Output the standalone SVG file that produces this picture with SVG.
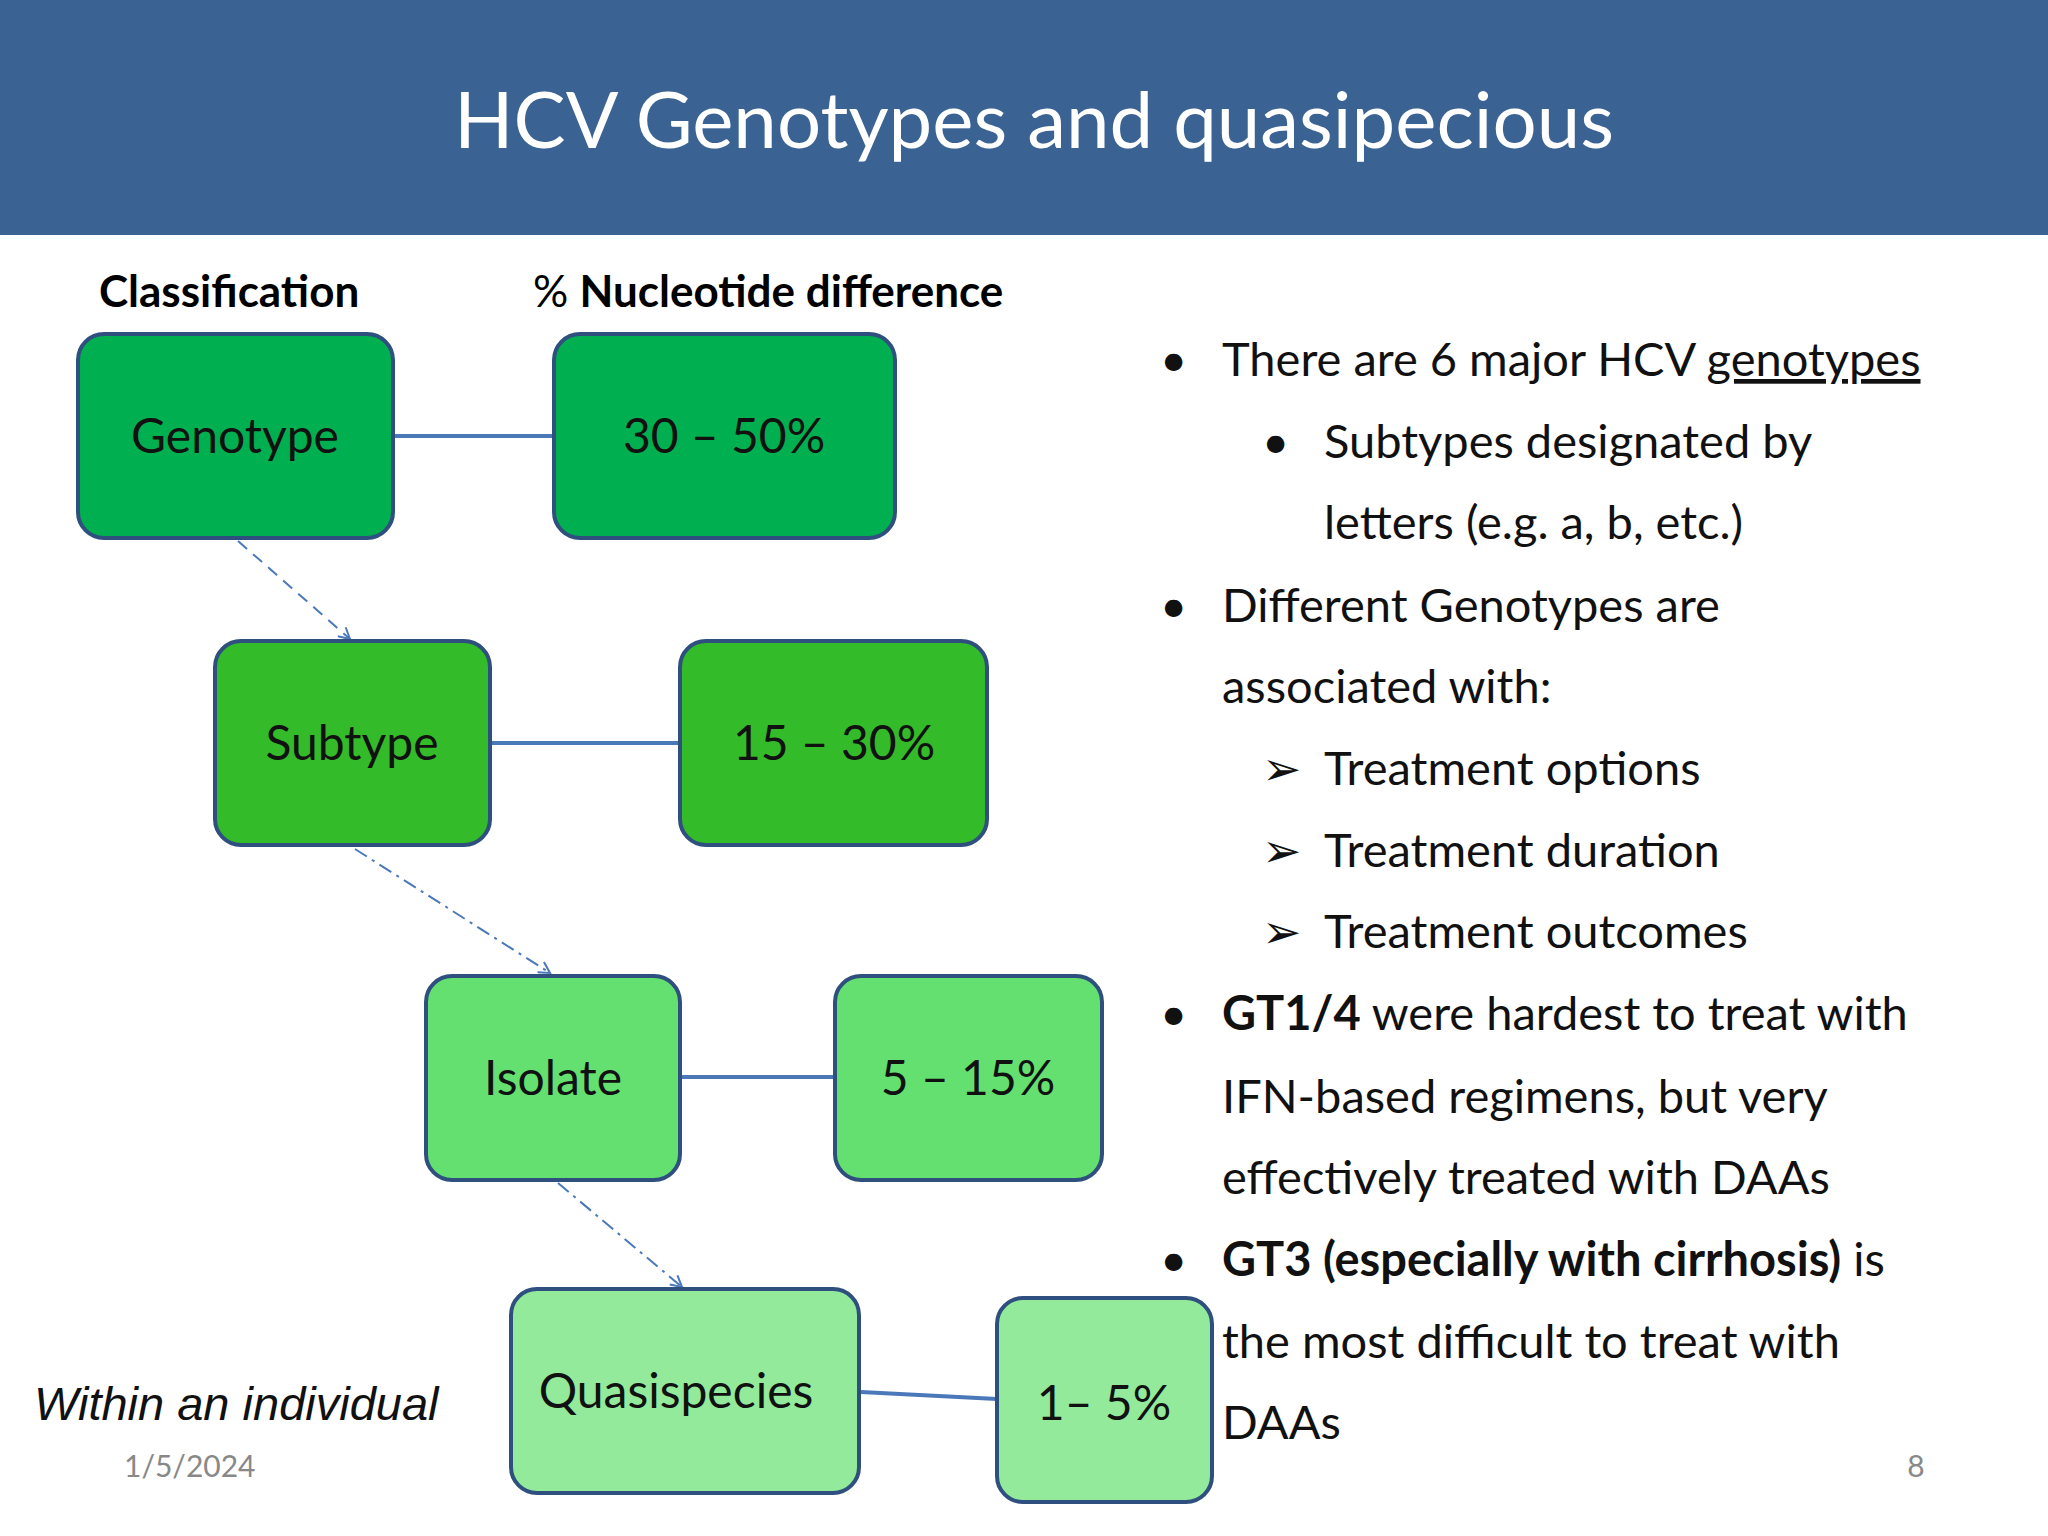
<svg xmlns="http://www.w3.org/2000/svg" width="2048" height="1536" viewBox="0 0 2048 1536">
<defs>
<style>
.t{font-family:Lato,"Open Sans",sans-serif;fill:#000}
.bx{stroke:#2F4F7F;stroke-width:4}
.bt{font-family:Lato,"Open Sans",sans-serif;font-size:48px;text-anchor:middle;fill:#111}
.ln{stroke:#4A78B8;stroke-width:4;fill:none}
.da{stroke:#4A78B8;stroke-width:2;fill:none;marker-end:url(#ah)}
.r{font-family:Lato,"Open Sans",sans-serif;font-size:47px;fill:#111}
</style>
<marker id="ah" markerWidth="14" markerHeight="14" refX="12" refY="7" orient="auto" markerUnits="userSpaceOnUse">
<path d="M1,1 L12,7 L1,13" fill="none" stroke="#4A78B8" stroke-width="2"/>
</marker>
</defs>
<rect width="2048" height="1536" fill="#fff"/>
<rect width="2048" height="235" fill="#3A6293"/>
<text x="1034" y="148" font-family="Lato,'Open Sans',sans-serif" font-size="78" fill="#fff" text-anchor="middle">HCV Genotypes and quasipecious</text>
<text class="t" x="99" y="307" font-size="44" font-weight="bold">Classification</text>
<text class="t" x="533" y="307" font-size="44"><tspan>% </tspan><tspan font-weight="bold">Nucleotide difference</tspan></text>
<g id="connectors">
<line class="ln" x1="393" y1="436" x2="554" y2="436"/>
<line class="ln" x1="490" y1="743" x2="680" y2="743"/>
<line class="ln" x1="680" y1="1077" x2="835" y2="1077"/>
<line class="ln" x1="861" y1="1392" x2="997" y2="1399"/>
<line class="da" x1="238" y1="541" x2="350" y2="639" stroke-dasharray="12,8"/>
<line class="da" x1="355" y1="849" x2="550" y2="973" stroke-dasharray="14,6,3,6"/>
<line class="da" x1="558" y1="1183" x2="682" y2="1287" stroke-dasharray="14,6,3,6"/>
</g>
<g id="genotype"><rect class="bx" x="78" y="334" width="315" height="204" rx="26" fill="#00B050"/><text class="bt" x="235" y="453">Genotype</text></g>
<g id="p30"><rect class="bx" x="554" y="334" width="341" height="204" rx="26" fill="#00B050"/><text class="bt" x="724" y="453">30 – 50%</text></g>
<g id="subtype"><rect class="bx" x="215" y="641" width="275" height="204" rx="26" fill="#33BB29"/><text class="bt" x="352" y="760">Subtype</text></g>
<g id="p15"><rect class="bx" x="680" y="641" width="307" height="204" rx="26" fill="#33BB29"/><text class="bt" x="834" y="760">15 – 30%</text></g>
<g id="isolate"><rect class="bx" x="426" y="976" width="254" height="204" rx="26" fill="#63E06F"/><text class="bt" x="553" y="1095">Isolate</text></g>
<g id="p5"><rect class="bx" x="835" y="976" width="267" height="204" rx="26" fill="#63E06F"/><text class="bt" x="968" y="1095">5 – 15%</text></g>
<g id="quasi"><rect class="bx" x="511" y="1289" width="348" height="204" rx="26" fill="#92EA9A"/><text class="bt" x="676" y="1408" font-size="45">Quasispecies</text></g>
<g id="p1"><rect class="bx" x="997" y="1298" width="215" height="204" rx="26" fill="#92EA9A"/><text class="bt" x="1104" y="1420">1– 5%</text></g>
<text x="34" y="1420" font-family="'Liberation Sans',Arial,sans-serif" font-style="italic" font-size="47" fill="#111">Within an individual</text>
<text x="124" y="1477" font-family="Lato,sans-serif" font-size="30" fill="#888">1/5/2024</text>
<text x="1916" y="1477" font-family="Lato,sans-serif" font-size="30" fill="#888" text-anchor="middle">8</text>
<g class="r">
<text x="1160" y="376">•</text><text x="1222" y="376">There are 6 major HCV <tspan text-decoration="underline">genotypes</tspan></text>
<text x="1262" y="458">•</text><text x="1324" y="458">Subtypes designated by</text>
<text x="1324" y="539">letters (e.g. a, b, etc.)</text>
<text x="1160" y="622">•</text><text x="1222" y="622">Different Genotypes are</text>
<text x="1222" y="703">associated with:</text>
<text x="1262" y="785">➢</text><text x="1324" y="785">Treatment options</text>
<text x="1262" y="867">➢</text><text x="1324" y="867">Treatment duration</text>
<text x="1262" y="948">➢</text><text x="1324" y="948">Treatment outcomes</text>
<text x="1160" y="1030">•</text><text x="1222" y="1030"><tspan font-weight="bold">GT1/4</tspan> were hardest to treat with</text>
<text x="1222" y="1113">IFN-based regimens, but very</text>
<text x="1222" y="1194">effectively treated with DAAs</text>
<text x="1160" y="1276">•</text><text x="1222" y="1276"><tspan font-weight="bold">GT3 (especially with cirrhosis)</tspan> is</text>
<text x="1222" y="1358">the most difficult to treat with</text>
<text x="1222" y="1439">DAAs</text>
</g>
</svg>
